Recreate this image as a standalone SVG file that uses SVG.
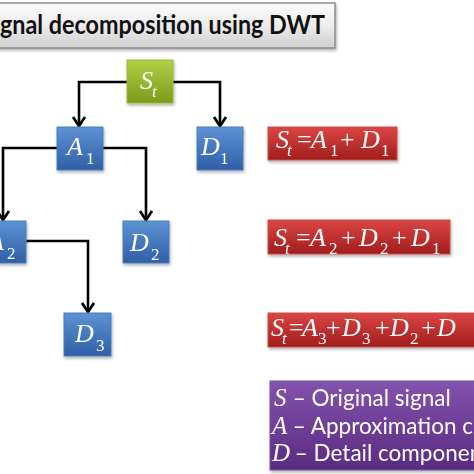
<svg xmlns="http://www.w3.org/2000/svg" width="474" height="474" viewBox="0 0 474 474">
<defs>
<linearGradient id="gTitle" x1="0" y1="0" x2="0" y2="1"><stop offset="0" stop-color="#fbfbfb"/><stop offset="0.5" stop-color="#ececec"/><stop offset="1" stop-color="#cfcfcf"/></linearGradient>
<linearGradient id="gBlue" x1="0" y1="0" x2="0" y2="1"><stop offset="0" stop-color="#5d92d4"/><stop offset="1" stop-color="#2f5fa6"/></linearGradient>
<linearGradient id="gGreen" x1="0" y1="0" x2="0" y2="1"><stop offset="0" stop-color="#b3cf45"/><stop offset="1" stop-color="#7c9b1d"/></linearGradient>
<linearGradient id="gRed" x1="0" y1="0" x2="0" y2="1"><stop offset="0" stop-color="#dc4543"/><stop offset="1" stop-color="#a11d1d"/></linearGradient>
<linearGradient id="gPurple" x1="0" y1="0" x2="0" y2="1"><stop offset="0" stop-color="#8453ad"/><stop offset="1" stop-color="#592b80"/></linearGradient>
<filter id="sh" x="-20%" y="-20%" width="140%" height="150%"><feDropShadow dx="1" dy="2" stdDeviation="1.5" flood-color="#000" flood-opacity="0.3"/></filter>
<marker id="arr" markerUnits="userSpaceOnUse" markerWidth="16" markerHeight="16" refX="12" refY="8" orient="auto" viewBox="0 0 16 16">
<polyline points="3,2 12,8 3,14" fill="none" stroke="#000" stroke-width="2.8" stroke-linejoin="miter"/>
</marker>
<style>
.node{filter:url(#sh)}
.blue{fill:url(#gBlue);stroke:#4a7cc0;stroke-width:1}
.green{fill:url(#gGreen);stroke:#9ab83a;stroke-width:1}
.red{fill:url(#gRed);stroke:#c9504d;stroke-width:1}
.purple{fill:url(#gPurple);stroke:#7d55a0;stroke-width:1}
.conn{fill:none;stroke:#000;stroke-width:2.6;marker-end:url(#arr)}
.lbl{font-family:"Liberation Serif","Times New Roman",serif;font-style:italic;font-size:26px;fill:#fff}
.sub{font-family:"Liberation Serif","Times New Roman",serif;font-style:normal;font-size:17px;fill:#fff}
.subi{font-family:"Liberation Serif","Times New Roman",serif;font-style:italic;font-size:17px;fill:#fff}
.eq{font-family:"Liberation Serif","Times New Roman",serif;font-style:italic;font-size:26px;fill:#fff}
.op{font-family:"Liberation Serif","Times New Roman",serif;font-style:normal;font-size:26px;fill:#fff}
.leg{font-family:Lato,"Open Sans",sans-serif;font-size:22.5px;fill:#fff}
.legi{font-family:"Liberation Serif","Times New Roman",serif;font-style:italic;font-size:25px;fill:#fff}
.title{font-family:Lato,"Open Sans",sans-serif;font-weight:bold;font-size:26px;fill:#111}
</style>
</defs>

<g id="title">
<rect x="-10" y="3" width="345" height="45" fill="url(#gTitle)" stroke="#8c8c8c" stroke-width="1.5" filter="url(#sh)"/>
<text class="title" x="0" y="34" textLength="325" lengthAdjust="spacingAndGlyphs">gnal decomposition using DWT</text>
</g>

<g id="connectors">
<path class="conn" d="M127,82 H79 V126"/>
<path class="conn" d="M173,82 H220 V126"/>
<path class="conn" d="M57,148 H3 V220"/>
<path class="conn" d="M103,148 H146 V220"/>
<path class="conn" d="M26,241 H88 V312"/>
</g>

<g id="node-St" class="node">
<rect class="green" x="127" y="60" width="46" height="43"/>
<text><tspan class="lbl" x="140" y="89">S</tspan><tspan class="subi" x="152" y="97">t</tspan></text>
</g>

<g id="node-A1" class="node">
<rect class="blue" x="57" y="127" width="46" height="43"/>
<text><tspan class="lbl" x="67" y="155">A</tspan><tspan class="sub" x="86" y="164">1</tspan></text>
</g>

<g id="node-D1" class="node">
<rect class="blue" x="197" y="127" width="46" height="43"/>
<text><tspan class="lbl" x="201" y="155">D</tspan><tspan class="sub" x="220" y="164">1</tspan></text>
</g>

<g id="node-A2" class="node">
<rect class="blue" x="-20" y="221" width="46" height="42"/>
<text><tspan class="lbl" x="-12" y="250">A</tspan><tspan class="sub" x="7" y="259">2</tspan></text>
</g>

<g id="node-D2" class="node">
<rect class="blue" x="123" y="221" width="46" height="42"/>
<text><tspan class="lbl" x="130" y="251">D</tspan><tspan class="sub" x="151" y="260">2</tspan></text>
</g>

<g id="node-D3" class="node">
<rect class="blue" x="64" y="313" width="47" height="43"/>
<text><tspan class="lbl" x="75" y="342">D</tspan><tspan class="sub" x="96" y="351">3</tspan></text>
</g>

<g id="eq1" class="node">
<rect class="red" x="268" y="127" width="129" height="33"/>
<text><tspan class="eq" x="276" y="148">S</tspan><tspan class="subi" x="287" y="156">t</tspan><tspan class="op" x="297" y="148">=</tspan><tspan class="eq" x="311" y="148">A</tspan><tspan class="sub" x="330" y="156">1</tspan><tspan class="op" x="340" y="148">+</tspan><tspan class="eq" x="361" y="148">D</tspan><tspan class="sub" x="381" y="156">1</tspan></text>
</g>

<g id="eq2" class="node">
<rect class="red" x="268" y="220" width="182" height="34"/>
<text><tspan class="eq" x="274" y="246">S</tspan><tspan class="subi" x="285" y="254">t</tspan><tspan class="op" x="296" y="246">=</tspan><tspan class="eq" x="310" y="246">A</tspan><tspan class="sub" x="329" y="254">2</tspan><tspan class="op" x="341" y="246">+</tspan><tspan class="eq" x="359" y="246">D</tspan><tspan class="sub" x="380" y="254">2</tspan><tspan class="op" x="392" y="246">+</tspan><tspan class="eq" x="411" y="246">D</tspan><tspan class="sub" x="432" y="254">1</tspan></text>
</g>

<g id="eq3" class="node">
<rect class="red" x="268" y="313" width="215" height="34"/>
<text><tspan class="eq" x="271" y="336">S</tspan><tspan class="subi" x="282" y="344">t</tspan><tspan class="op" x="289" y="336">=</tspan><tspan class="eq" x="302" y="336">A</tspan><tspan class="sub" x="318" y="344">3</tspan><tspan class="op" x="326" y="336">+</tspan><tspan class="eq" x="342" y="336">D</tspan><tspan class="sub" x="362" y="344">3</tspan><tspan class="op" x="375" y="336">+</tspan><tspan class="eq" x="390" y="336">D</tspan><tspan class="sub" x="410" y="344">2</tspan><tspan class="op" x="421" y="336">+</tspan><tspan class="eq" x="437" y="336">D</tspan></text>
</g>

<g id="legend" class="node">
<rect class="purple" x="270" y="381" width="215" height="89"/>
<text><tspan class="legi" x="274" y="406">S</tspan><tspan class="leg" x="287" y="406"> – Original signal</tspan></text>
<text><tspan class="legi" x="272" y="434">A</tspan><tspan class="leg" x="287" y="434"> – Approximation c</tspan></text>
<text><tspan class="legi" x="272" y="461">D</tspan><tspan class="leg" x="289" y="461"> – Detail componen</tspan></text>
</g>
</svg>
